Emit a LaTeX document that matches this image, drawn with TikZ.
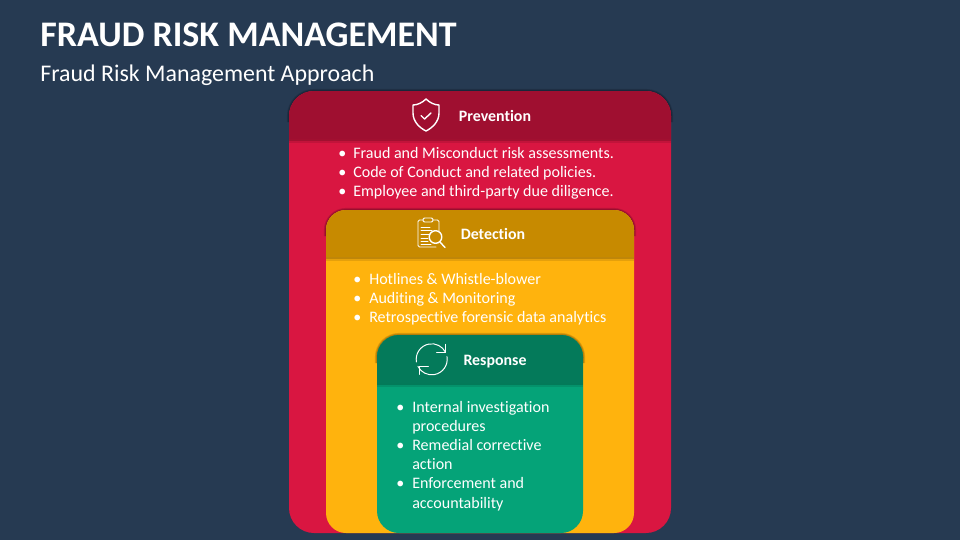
\documentclass[tikz,border=0pt]{standalone}
\usepackage{fontspec}
\setmainfont[Ligatures=NoCommon]{Carlito}
\usetikzlibrary{calc}

\definecolor{navy}{HTML}{263A52}
\definecolor{redlight}{HTML}{D91641}
\definecolor{reddark}{HTML}{9F0F30}
\definecolor{amberlight}{HTML}{FFB30D}
\definecolor{amberdark}{HTML}{C78A00}
\definecolor{greenlight}{HTML}{05A378}
\definecolor{greendark}{HTML}{047A5A}

\tikzset{
    titletext/.style={anchor=base west,inner sep=0pt,white,font=\fontsize{25.6pt}{28pt}\selectfont\bfseries},
    subtitletext/.style={anchor=base west,inner sep=0pt,white,font=\fontsize{17pt}{19pt}\selectfont},
    headtext/.style={anchor=base,inner sep=0pt,white,font=\fontsize{11.3pt}{13pt}\selectfont\bfseries},
    bodytext/.style={anchor=base west,inner sep=0pt,white,font=\fontsize{11.4pt}{13pt}\selectfont},
    iconline/.style={white,line width=1pt,line cap=round,line join=round},
    iconthin/.style={white,line width=0.7pt,line cap=round,line join=round}
}

\begin{document}
\begin{tikzpicture}[x=0.025cm,y=-0.025cm]
\useasboundingbox (0,0) rectangle (960,540);
\fill[navy] (0,0) rectangle (960,540);

\node[titletext] (title) at (40,46) {FRAUD RISK MANAGEMENT};
\node[subtitletext] (subtitle) at (40,81) {Fraud Risk Management Approach};

% Panels
\foreach \xa/\xb/\ya/\yh/\rad/\base/\head in {
    289/671/91/139/25/redlight/reddark,
    326/634/210/257/20/amberlight/amberdark,
    377/583/335/383/22/greenlight/greendark}
{
    % soft edge
    \foreach \w in {3,2,1}
    {
        \draw[black,opacity=0.12,line width=\w pt,rounded corners=\rad*0.025cm]
            (\xa,\ya+\rad+6) -- (\xa,\ya) -- (\xb,\ya) -- (\xb,\ya+\rad+6);
    }
    \fill[\base,rounded corners=\rad*0.025cm] (\xa,\ya) rectangle (\xb,533);
    \fill[\head,rounded corners=\rad*0.025cm] (\xa,\ya+\rad+1) -- (\xa,\ya) -- (\xb,\ya) -- (\xb,\ya+\rad+1);
    \fill[\head] (\xa,\ya+\rad) rectangle (\xb,\yh);
    % rule under the header
    \fill[black,opacity=0.25] (\xa,\yh) rectangle (\xb,\yh+2);
    \fill[black,opacity=0.1] (\xa,\yh+2) rectangle (\xb,\yh+4);
}

% Prevention
\node[headtext] (prevention) at (495,121.4) {Prevention};
\foreach \y/\txt in {158.2/Fraud and Misconduct risk assessments.,
    177.2/Code of Conduct and related policies.,
    196.4/Employee and third-party due diligence.}
{
    \node[bodytext] at (338,\y) {•};
    \node[bodytext] at (353,\y) {\txt};
}
% shield
\draw[iconline] (426,99) .. controls (422,103) and (417,105) .. (413,105)
    -- (413,113) .. controls (413,122) and (420,128) .. (426,131)
    .. controls (432,128) and (439,122) .. (439,113)
    -- (439,105) .. controls (435,105) and (430,103) .. (426,99) -- cycle;
\draw[iconline] (421,115.5) -- (424.5,119) -- (431,113);

% Detection
\node[headtext] (detection) at (493,239) {Detection};
\foreach \y/\txt in {284.4/Hotlines \& Whistle-blower,
    303.4/Auditing \& Monitoring,
    322.2/Retrospective forensic data analytics}
{
    \node[bodytext] at (353,\y) {•};
    \node[bodytext] at (369,\y) {\txt};
}
% clipboard
\draw[iconthin] (423,220) -- (419.5,220) .. controls (418.5,220) and (418,220.5) .. (418,221.5)
    -- (418,245.5) .. controls (418,246.5) and (418.5,247) .. (419.5,247) -- (436,247);
\draw[iconthin] (433,220) -- (437.5,220) .. controls (438.5,220) and (439,220.5) .. (439,221.5) -- (439,231);
\draw[iconthin,rounded corners=1pt] (423,218) rectangle (433,222);
\foreach \y/\xb in {227/430,230/432,234/429,238/428,241/428,244/431}
{
    \draw[iconthin] (421,\y) -- (\xb,\y);
}
\draw[iconline] (435.5,237) circle (6.3);
\draw[iconline] (440,242) -- (445,247.5);

% Response
\node[headtext] (response) at (495,365.4) {Response};
\foreach \y/\txt in {412.2/Internal investigation,450.5/Remedial corrective,488.8/Enforcement and}
{
    \node[bodytext] at (396,\y) {•};
    \node[bodytext] at (412,\y) {\txt};
}
\foreach \y/\txt in {431.2/procedures,469.8/action,508.2/accountability}
{
    \node[bodytext] at (412,\y) {\txt};
}
% refresh arrows
\begin{scope}[shift={(431.7,359.3)},x=0.025cm,y=0.025cm]
\draw[iconthin] (190:15.5) arc[start angle=190,end angle=27,radius=15.5];
\draw[iconthin] (10:15.5) arc[start angle=10,end angle=-153,radius=15.5];
\draw[iconthin] (4.8,7) -- (13.3,7) -- (13.3,15);
\draw[iconthin] (-3.4,-7) -- (-12.7,-7) -- (-12.7,-15);
\end{scope}
\end{tikzpicture}
\end{document}
